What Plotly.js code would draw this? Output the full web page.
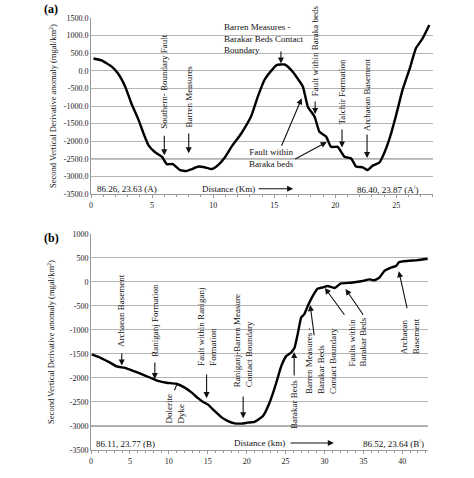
<!DOCTYPE html>
<html>
<head>
<meta charset="utf-8">
<script src="https://cdn.plot.ly/plotly-3.0.1.min.js"></script>
<style>
  html, body { margin: 0; padding: 0; background: #fff; }
  #chart { width: 474px; height: 478px; }
</style>
</head>
<body>
<div id="chart"></div>
<script>
/* ---------------------------------------------------------------- */
/* DATA                                                             */
/* ---------------------------------------------------------------- */
// profile A - A'
var aDist = [0.2, 0.9, 1.7, 2.2, 2.8, 3.3, 3.9, 4.3, 4.7, 5.2, 5.8, 6.2, 6.7, 7.3, 7.8, 8.2,
  8.8, 9.3, 9.9, 10.4, 11.0, 11.5, 12.3, 13.1, 13.65, 14.2, 14.8, 15.2, 15.85, 16.4, 16.9,
  17.35, 17.75, 18.3, 18.7, 19.25, 19.65, 20.2, 20.75, 21.3, 21.7, 22.25, 22.65, 23.05,
  23.6, 24.0, 24.4, 24.95, 25.5, 26.1, 26.6, 27.15, 27.7];
var aVal = [350, 290, 120, -70, -450, -920, -1400, -1780, -2110, -2300, -2440, -2650, -2650,
  -2820, -2850, -2800, -2720, -2740, -2790, -2680, -2440, -2160, -1780, -1300, -740, -260,
  20, 160, 180, 20, -210, -450, -1020, -1300, -1730, -1870, -2160, -2160, -2440, -2490,
  -2720, -2740, -2820, -2700, -2610, -2340, -1970, -1300, -550, 70, 640, 920, 1300];

// profile B - B'
var bDist = [0.1, 1.35, 2.45, 3.3, 4.35, 5.4, 6.5, 7.55, 8.6, 9.7, 10.95, 12.05, 12.9, 13.75,
  14.4, 15.0, 15.9, 16.7, 17.6, 18.45, 19.3, 20.15, 21.0, 22.1, 22.95, 23.8, 24.45, 25.1,
  25.7, 26.15, 26.6, 27.0, 27.4, 27.85, 28.5, 29.1, 29.75, 30.4, 31.3, 32.1, 33.4, 34.7,
  35.8, 36.4, 37.05, 37.7, 38.55, 39.2, 39.6, 40.7, 41.95, 43.25];
var bVal = [-1510, -1590, -1680, -1760, -1790, -1850, -1920, -1990, -2060, -2100, -2120, -2200,
  -2300, -2420, -2500, -2550, -2690, -2810, -2900, -2945, -2950, -2930, -2915, -2790, -2510,
  -2100, -1750, -1540, -1470, -1370, -1050, -740, -670, -500, -290, -140, -115, -85, -125,
  -30, -15, 15, 55, 35, 90, 230, 300, 335, 415, 440, 455, 485];

// tick labels
var aYTicks = [1500, 1000, 500, 0, -500, -1000, -1500, -2000, -2500, -3000, -3500];
var aYText = ['1500.0', '1000.0', '500.0', '0.0', '-500.0', '-1000.0', '-1500.0', '-2000.0',
  '-2500.0', '-3000.0', '-3500.0'];
var bYTicks = [1000, 500, 0, -500, -1000, -1500, -2000, -2500, -3000, -3500];
var bYText = ['1000', '500', '0', '-500', '-1000', '-1500', '-2000', '-2500', '-3000', '-3500'];

/* ---------------------------------------------------------------- */
/* HELPERS                                                          */
/* ---------------------------------------------------------------- */
var SERIF = 'Liberation Serif, Times New Roman, serif';
var A = {x: 'x', y: 'y'};
var B = {x: 'x2', y: 'y2'};

function note(p, text, x, y, opts) {
  var a = {
    xref: p.x, yref: p.y, x: x, y: y, text: text, showarrow: false,
    font: {family: SERIF, size: 9, color: '#111'},
    xanchor: 'center', yanchor: 'middle'
  };
  for (var k in opts) a[k] = opts[k];
  return a;
}

// arrow only, tail (x0,y0) -> head (x1,y1) in data units
function arrow(p, x0, y0, x1, y1, head) {
  return {
    xref: p.x, yref: p.y, axref: p.x, ayref: p.y,
    x: x1, y: y1, ax: x0, ay: y0, text: '',
    showarrow: true, arrowhead: head === undefined ? 2 : head,
    arrowsize: 1.1, arrowwidth: 1.1, arrowcolor: '#111'
  };
}

var rot = {textangle: -90};
var rotL = {textangle: -90, align: 'left'};

var notes = [
  // panel (a)
  note(A, 'Southern- Boundary Fault', 6.0, -300, rot),
  arrow(A, 6.0, -1800, 6.0, -2400),
  note(A, 'Barren Measures', 8.0, -740, rot),
  arrow(A, 8.0, -1740, 8.0, -2340),
  note(A, 'Barren Measures -<br>Barakar Beds Contact<br>Boundary', 10.7, 1430,
    {xanchor: 'left', yanchor: 'top', align: 'left'}),
  arrow(A, 15.55, 590, 15.55, 210),
  note(A, 'Fault within Baraka beds', 18.35, 560, rot),
  arrow(A, 18.35, -830, 18.35, -1230),
  note(A, 'Talchir Formation', 20.55, -590, rot),
  arrow(A, 20.55, -1625, 20.55, -2180),
  note(A, 'Archaean Basement', 22.6, -690, rot),
  arrow(A, 22.6, -1770, 22.6, -2480),
  note(A, 'Fault within<br>Baraka beds', 14.8, -2480, {align: 'center'}),
  arrow(A, 15.55, -2170, 17.25, -780),
  arrow(A, 16.6, -2530, 19.3, -2020),
  note(A, '86.26, 23.63 (A)', 0.3, -3350, {xanchor: 'left'}),
  note(A, 'Distance (Km)', 8.9, -3350, {xanchor: 'left'}),
  arrow(A, 13.6, -3350, 16.55, -3350),
  note(A, '86.40, 23.87 (A<sup>/</sup>)', 27.0, -3350, {xanchor: 'right'}),

  // panel (b)
  note(B, 'Archaean Basement', 3.95, -590, rot),
  arrow(B, 3.95, -1460, 3.95, -1740),
  note(B, 'Raniganj Formation', 8.2, -790, rot),
  arrow(B, 8.2, -1645, 8.2, -2020),
  note(B, 'Fault within Raniganj<br>Formation', 14.9, -915, rotL),
  arrow(B, 14.85, -1895, 14.85, -2420),
  note(B, 'Dolerite<br>Dyke', 10.85, -2625, rotL),
  arrow(B, 10.65, -2290, 11.05, -2125, 0),
  note(B, 'Raniganj-Barren Measure<br>Contact Boundary', 19.5, -1220, rotL),
  arrow(B, 19.55, -2355, 19.55, -2840),
  note(B, 'Barakar Beds', 26.1, -2560, rot),
  arrow(B, 26.1, -1980, 26.1, -1460),
  note(B, 'Barren Measures -<br>Barakar Beds<br>Contact Boundary', 29.5, -1655, rotL),
  arrow(B, 28.7, -1140, 28.15, -480),
  note(B, 'Faults within<br>Barakar Beds', 34.25, -1250, rotL),
  arrow(B, 32.7, -715, 30.05, -125),
  arrow(B, 35.1, -715, 32.7, -145),
  note(B, 'Archaean<br>Basement', 41.1, -1135, rotL),
  arrow(B, 40.65, -575, 39.55, 225),
  note(B, '86.11, 23.77 (B)', 0.4, -3380, {xanchor: 'left'}),
  note(B, 'Distance (km)', 18.1, -3355, {xanchor: 'left'}),
  arrow(B, 25.45, -3355, 31.2, -3355),
  note(B, '86.52, 23.64 (B<sup>/</sup>)', 43.0, -3355, {xanchor: 'right'}),

  // panel letters
  {xref: 'paper', yref: 'paper', x: 0.089, y: 0.982, xanchor: 'left', yanchor: 'middle',
    text: '<b>(a)</b>', showarrow: false, font: {family: SERIF, size: 12, color: '#000'}},
  {xref: 'paper', yref: 'paper', x: 0.089, y: 0.502, xanchor: 'left', yanchor: 'middle',
    text: '<b>(b)</b>', showarrow: false, font: {family: SERIF, size: 12, color: '#000'}}
];

/* ---------------------------------------------------------------- */
/* TRACES + LAYOUT                                                  */
/* ---------------------------------------------------------------- */
var lineStyle = {color: '#000', width: 2.4, shape: 'spline', smoothing: 0.4};

var traces = [
  {x: aDist, y: aVal, xaxis: 'x', yaxis: 'y', mode: 'lines', line: lineStyle,
    hoverinfo: 'skip', showlegend: false},
  {x: bDist, y: bVal, xaxis: 'x2', yaxis: 'y2', mode: 'lines', line: lineStyle,
    hoverinfo: 'skip', showlegend: false}
];

var tickFont = {family: SERIF, size: 8, color: '#222'};
var yTitle = 'Second Vertical Derivative anomaly (mgal/km<sup>2</sup>)';

function xAxis(domain, range, anchor) {
  return {
    domain: domain, range: range, anchor: anchor, dtick: 5, tick0: 0,
    showgrid: false, zeroline: false, showline: true, linecolor: '#999', linewidth: 1,
    ticks: 'outside', ticklen: 3, tickcolor: '#999', tickfont: tickFont,
    minor: {dtick: 1, ticks: 'outside', ticklen: 2, tickcolor: '#999'}
  };
}

function yAxis(domain, range, anchor, vals, text, standoff) {
  return {
    domain: domain, range: range, anchor: anchor, tickmode: 'array',
    tickvals: vals, ticktext: text, tickfont: tickFont, ticks: '',
    showgrid: true, gridcolor: '#b5b5b5', gridwidth: 1, zeroline: false,
    showline: true, linecolor: '#999', linewidth: 1,
    title: {text: yTitle, font: {family: SERIF, size: 8.5, color: '#111'}, standoff: standoff}
  };
}

var layout = {
  width: 474, height: 478,
  margin: {l: 0, r: 0, t: 0, b: 0},
  paper_bgcolor: '#fff', plot_bgcolor: '#fff',
  xaxis: xAxis([0.192, 0.9135], [0, 28], 'y'),
  yaxis: yAxis([0.5941, 0.9623], [-3500, 1500], 'x', aYTicks, aYText, 5),
  xaxis2: xAxis([0.192, 0.903], [0, 43.3], 'y2'),
  yaxis2: yAxis([0.0586, 0.5105], [-3500, 1000], 'x2', bYTicks, bYText, 13),
  shapes: [
    {type: 'line', xref: 'x domain', yref: 'y', x0: 0, x1: 1, y0: -2500, y1: -2500,
      line: {color: '#444', width: 1}, layer: 'below'},
    {type: 'line', xref: 'x2 domain', yref: 'y2', x0: 0, x1: 1, y0: -3000, y1: -3000,
      line: {color: '#555', width: 1}, layer: 'below'}
  ],
  annotations: notes
};

Plotly.newPlot('chart', traces, layout, {displayModeBar: false, staticPlot: true});
</script>
</body>
</html>
